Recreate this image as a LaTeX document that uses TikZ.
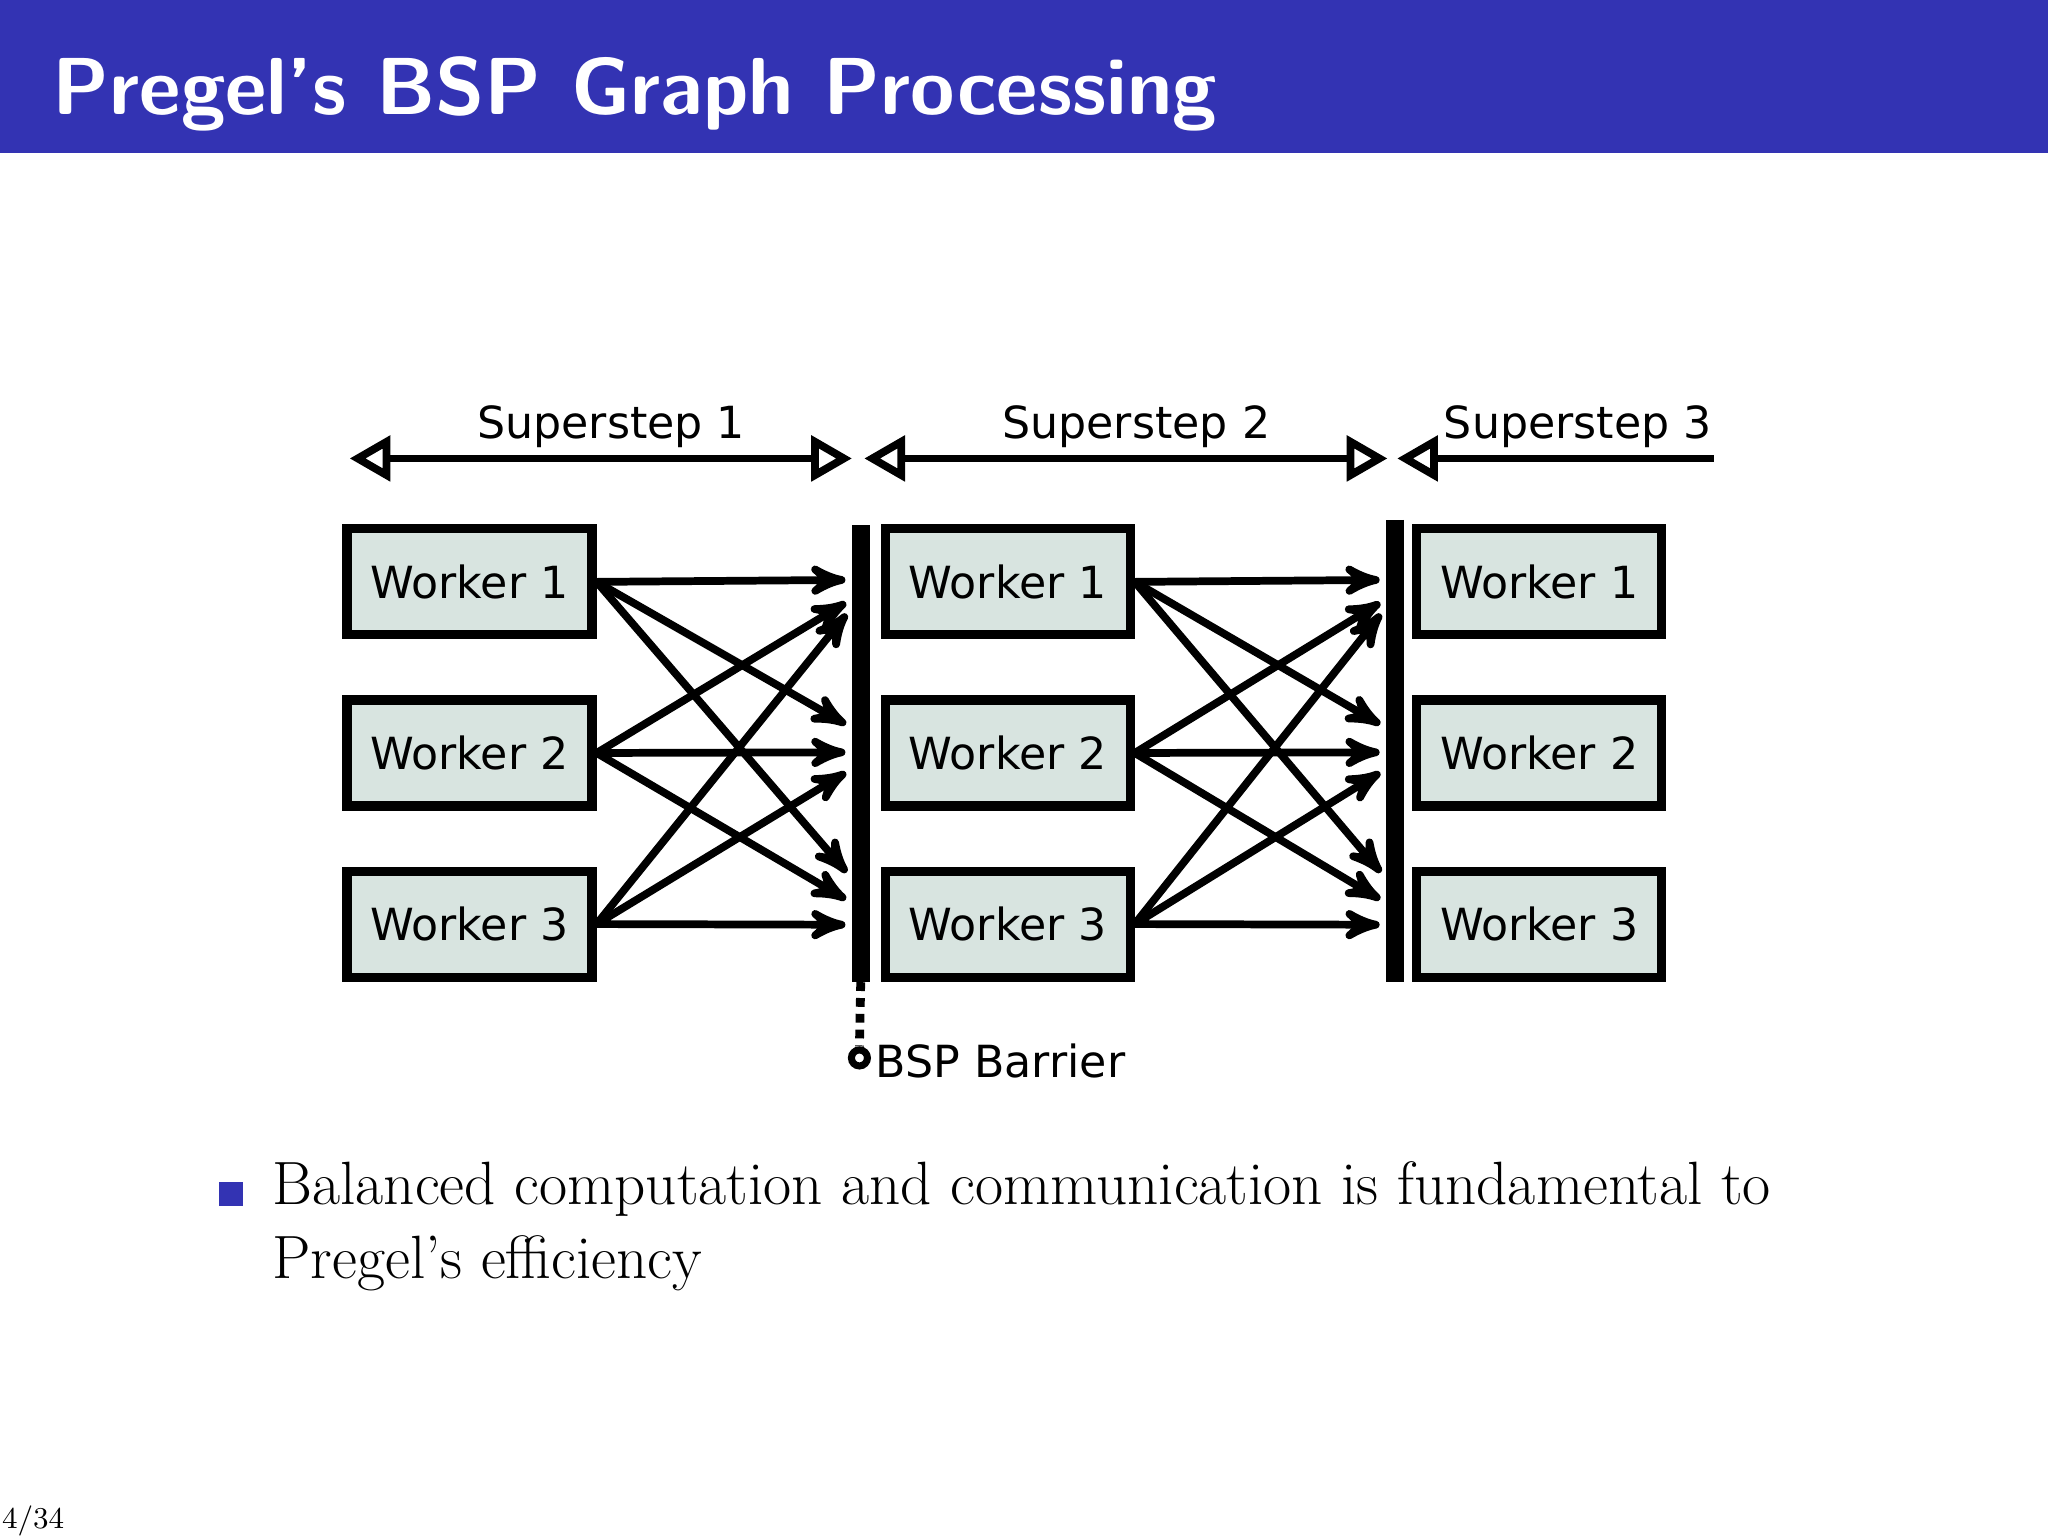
\documentclass[tikz,border=0pt]{standalone}
\usepackage{fontspec}
\newfontfamily\dejavu{DejaVu Sans}
\usetikzlibrary{arrows}
\definecolor{barblue}{RGB}{51,51,179}
\definecolor{boxfill}{RGB}{216,228,224}
\begin{document}
\begin{tikzpicture}[x=0.01306cm,y=-0.01306cm,>=stealth',
    worker/.style={draw,line width=2.6pt,fill=boxfill,minimum width=2.45cm,minimum height=1.06cm,inner sep=0pt,font=\dejavu\fontsize{12.6}{15}\selectfont},
    msg/.style={->,line width=2.2pt,shorten >=1pt},
    span/.style={line width=2.2pt,open triangle 60-open triangle 60},
    barrier/.style={line width=5pt}]
  \useasboundingbox (0,0) rectangle (1568,1176);
  \fill[barblue] (0,0) rectangle (1568,117);
  \node[anchor=base west,inner sep=0pt,text=white,font=\sffamily\bfseries\fontsize{23}{28}\selectfont] (title) at (40,88) {Pregel’s BSP Graph Processing};

  % workers
  \foreach \c/\x in {1/359.5,2/771.5,3/1178.5}
    \foreach \r/\y in {1/445.5,2/576.5,3/707.5}
      \node[worker] (w\c\r) at (\x,\y) {Worker \r};

  % barriers
  \coordinate (b1top) at (659,402); \coordinate (b1bot) at (659,752);
  \coordinate (b2top) at (1068,398); \coordinate (b2bot) at (1068,752);
  \draw[barrier] (b1top) -- (b1bot);
  \draw[barrier] (b2top) -- (b2bot);

  % message targets on the barriers
  \foreach \b/\x in {1/650,2/1059}{
    \foreach \s/\d/\y in {1/1/444,2/1/460,3/1/468,1/2/556,2/2/576,3/2/590,1/3/670,2/3/690,3/3/708}
      \coordinate (t\b\s\d) at (\x,\y);
  }
  \foreach \s in {1,2,3}
    \foreach \d in {1,2,3}{
      \draw[msg] (w1\s.east) -- (t1\s\d);
      \draw[msg] (w2\s.east) -- (t2\s\d);
    }

  % supersteps
  \coordinate (s1a) at (268,351); \coordinate (s1b) at (652,351);
  \coordinate (s2a) at (662,351); \coordinate (s2b) at (1062,351);
  \coordinate (s3a) at (1070,351); \coordinate (s3b) at (1312,351);
  \draw[span] (s1a) -- (s1b);
  \draw[span] (s2a) -- (s2b);
  \draw[line width=2.2pt,open triangle 60-] (s3a) -- (s3b);
  \node[font=\dejavu\fontsize{12.6}{15}\selectfont] (l1) at (468,327) {Superstep 1};
  \node[font=\dejavu\fontsize{12.6}{15}\selectfont] (l2) at (870,327) {Superstep 2};
  \node[font=\dejavu\fontsize{12.6}{15}\selectfont] (l3) at (1208,327) {Superstep 3};

  % barrier label
  \node[circle,draw,line width=2pt,minimum size=0.16cm,inner sep=0pt] (dot) at (658,810) {};
  \draw[line width=2.5pt,dotted] (b1bot) -- (dot.north);
  \node[anchor=west,inner sep=0pt,font=\dejavu\fontsize{12.6}{15}\selectfont] (bsp) at (670,812) {BSP Barrier};

  % bullet
  \fill[barblue] (168,905) rectangle (186,923);
  \node[anchor=north west,align=left,inner sep=0pt,font=\fontsize{17.4}{21}\selectfont] (txt) at (208,889)
    {Balanced computation and communication is fundamental to\\Pregel’s efficiency};
  \node[anchor=base west,inner sep=0pt,font=\fontsize{8.6}{10}\selectfont] (pg) at (1,1170) {4/34};
\end{tikzpicture}
\end{document}
